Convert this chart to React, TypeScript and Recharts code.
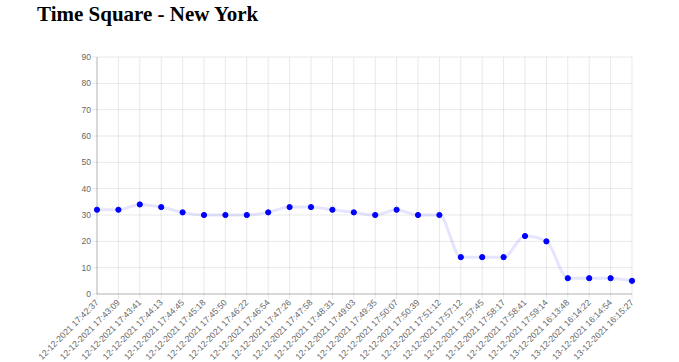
import React from 'react';
import { LineChart, Line, XAxis, YAxis, CartesianGrid } from 'recharts';

const timestamps = [
  '12-12-2021 17:42:37', '12-12-2021 17:43:09', '12-12-2021 17:43:41', '12-12-2021 17:44:13',
  '12-12-2021 17:44:45', '12-12-2021 17:45:18', '12-12-2021 17:45:50', '12-12-2021 17:46:22',
  '12-12-2021 17:46:54', '12-12-2021 17:47:26', '12-12-2021 17:47:58', '12-12-2021 17:48:31',
  '12-12-2021 17:49:03', '12-12-2021 17:49:35', '12-12-2021 17:50:07', '12-12-2021 17:50:39',
  '12-12-2021 17:51:12', '12-12-2021 17:57:12', '12-12-2021 17:57:45', '12-12-2021 17:58:17',
  '12-12-2021 17:58:41', '12-12-2021 17:59:14', '13-12-2021 16:13:48', '13-12-2021 16:14:22',
  '13-12-2021 16:14:54', '13-12-2021 16:15:27',
];

const readings = [32, 32, 34, 33, 31, 30, 30, 30, 31, 33, 33, 32, 31, 30, 32, 30, 30, 14, 14, 14, 22, 20, 6, 6, 6, 5];

const yTicks = [0, 10, 20, 30, 40, 50, 60, 70, 80, 90];

const chartData = timestamps.map((t, i) => ({ time: t, value: readings[i] }));

const GRID = 'rgba(0,0,0,0.09)';
const AXIS = 'rgba(0,0,0,0.22)';

const TimeTick = (props: any) => {
  const { x, y, payload } = props;
  return (
    <g transform={`translate(${x},${y})`}>
      <text
        x={0}
        y={0}
        dy={3}
        textAnchor="end"
        transform="rotate(-45)"
        fontSize={8.7}
        fill="#666"
        fontFamily="'Liberation Sans', Arial, sans-serif"
      >
        {payload.value}
      </text>
    </g>
  );
};

const App: React.FC = () => {
  return (
    <div style={{ position: 'absolute', left: 0, top: 0, width: 679, height: 362, background: '#fff' }}>
      <div
        style={{
          position: 'absolute',
          left: 37,
          top: 4,
          fontFamily: "'Liberation Serif', 'Times New Roman', serif",
          fontWeight: 'bold',
          fontSize: 21,
          lineHeight: '21px',
          color: '#000',
          whiteSpace: 'nowrap',
        }}
      >
        Time Square - New York
      </div>
      <div style={{ position: 'absolute', left: 0, top: 0 }}>
        <LineChart width={679} height={362} data={chartData} margin={{ top: 57, right: 47, bottom: 0, left: 0 }}>
          <CartesianGrid stroke={GRID} strokeWidth={1} />
          <XAxis
            dataKey="time"
            interval={0}
            height={68}
            tick={<TimeTick />}
            tickSize={5}
            tickMargin={2}
            tickLine={{ stroke: GRID }}
            axisLine={{ stroke: AXIS }}
          />
          <YAxis
            width={97}
            domain={[0, 90]}
            ticks={yTicks}
            interval={0}
            tickSize={5}
            tickMargin={1}
            tickLine={{ stroke: GRID }}
            axisLine={{ stroke: AXIS }}
            tick={{ fontSize: 8.5, fill: '#666', fontFamily: "'Liberation Sans', Arial, sans-serif" }}
          />
          <Line
            type="monotone"
            dataKey="value"
            stroke="rgba(0,0,255,0.1)"
            strokeWidth={3}
            dot={{ r: 2.6, fill: '#0000ff', stroke: '#0000ff', strokeWidth: 1 }}
            isAnimationActive={false}
          />
        </LineChart>
      </div>
    </div>
  );
};

export default App;
